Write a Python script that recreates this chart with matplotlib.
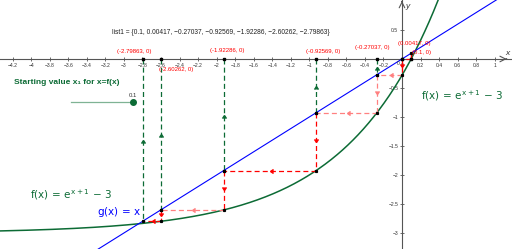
import numpy as np
import matplotlib
matplotlib.use("Agg")
import matplotlib.pyplot as plt

# ---- data ----
iterates = [0.1, 0.00417, -0.27037, -0.92569, -1.92286, -2.60262, -2.79863]
point_labels = ["(0.1, 0)", "(0.00417, 0)", "(-0.27037, 0)", "(-0.92569, 0)",
                "(-1.92286, 0)", "(-2.60262, 0)", "(-2.79863, 0)"]
list_text = "list1 = {0.1, 0.00417, \u22120.27037, \u22120.92569, \u22121.92286, \u22122.60262, \u22122.79863}"
x_ticks = [round(v, 1) for v in np.arange(-4.2, 1.01, 0.2)]
y_ticks = [0.5, -0.5, -1, -1.5, -2, -2.5, -3]
start_value = 0.1

# ---- style ----
GREEN = "#0c6b35"
BLUE = "#0000ff"
RED = "#ff0000"
PINK = "#ff8080"
GRAY = "#555555"
seg_colors = [(RED, RED), (RED, PINK), (PINK, PINK), (RED, RED), (RED, PINK), (RED, RED)]
label_offsets = [(10, 6), (12, 15), (-5, 11), (7, 7), (3, 8), (15, -11), (-8, 7)]

plt.rcParams['font.family'] = ['Liberation Sans', 'DejaVu Sans']
plt.rcParams['mathtext.fontset'] = 'dejavusans'

fig = plt.figure(figsize=(5.12, 2.49), dpi=100)
ax = fig.add_axes([0, 0, 1, 1])
ax.set_xlim(-4.337, 1.187)
ax.set_ylim(-3.276, 1.017)

def f(x):
    return np.exp(x + 1) - 3

xx = np.linspace(-4.4, 1.2, 600)
ax.plot(xx, f(xx), color=GREEN, lw=1.1, zorder=3)
ax.plot(xx, xx, color=BLUE, lw=0.8, zorder=3)

# axes through origin
for s in ['top', 'right']:
    ax.spines[s].set_visible(False)
ax.spines['left'].set_position(('data', 0))
ax.spines['bottom'].set_position(('data', 0))
for s in ['left', 'bottom']:
    ax.spines[s].set_color(GRAY)
    ax.spines[s].set_linewidth(0.8)
ax.set_xticks(x_ticks)
ax.set_xticklabels([("%g" % v).replace("-", "\u2212") for v in x_ticks])
ax.set_yticks(y_ticks)
ax.set_yticklabels([("%g" % v).replace("-", "\u2212") for v in y_ticks])
ax.tick_params(axis='both', direction='inout', length=2.5, width=0.6, color=GRAY,
               labelsize=3.6, labelcolor="#333333", pad=1.5)
ax.annotate('0', xy=(0, 0), xytext=(-4, -5), textcoords='offset pixels',
            fontsize=3.6, color="#333333", ha='center', va='center')
ax.annotate('', xy=(1.16, 0), xytext=(1.10, 0),
            arrowprops=dict(arrowstyle='->', color=GRAY, lw=0.8))
ax.annotate('', xy=(0, 1.0), xytext=(0, 0.94),
            arrowprops=dict(arrowstyle='->', color=GRAY, lw=0.8))
ax.text(1.14, 0.04, "x", fontsize=6, style='italic', color="#333333", ha='center', va='bottom')
ax.text(0.04, 0.97, "y", fontsize=6, style='italic', color="#333333", ha='left', va='top')

# cobweb
for i in range(len(iterates) - 1):
    a, b = iterates[i], iterates[i + 1]
    cv, ch = seg_colors[i]
    ax.plot([a, a], [a, b], ls=(0, (4, 2.5)), color=cv, lw=0.9, zorder=4)
    ax.plot([a, b], [b, b], ls=(0, (4, 2.5)), color=ch, lw=0.9, zorder=4)
    if abs(a - b) > 0.1:
        ax.plot(a, (a + b) / 2, marker=7, ms=2.5, color=cv, zorder=5)
        ax.plot((a + b) / 2, b, marker=4, ms=2.5, color=ch, zorder=5)
    ax.plot([a, a], [a, b], ls='none', marker='s', ms=1.3, color='k', zorder=6)
    ax.plot([b], [b], ls='none', marker='s', ms=1.3, color='k', zorder=6)

# green verticals from the x axis
for v in iterates:
    ax.plot([v, v], [0, v], ls=(0, (4, 2.5)), color=GREEN, lw=0.9, zorder=2)
    if abs(v) > 0.1:
        ax.plot(v, v / 2, marker=6, ms=2.5, color=GREEN, zorder=5)
    ax.plot(v, 0, ls='none', marker='s', ms=1.6, color='k', zorder=6)

for v, lab, off in zip(iterates, point_labels, label_offsets):
    ax.annotate(lab, xy=(v, 0), xytext=off, textcoords='offset pixels',
                ha='center', va='center', fontsize=4.3, color=RED, zorder=7)

ax.text(0.219, 0.871, list_text, transform=ax.transAxes, fontsize=4.8,
        color="#222222", ha='left', va='center')

# slider
ax.text(0.027, 0.667, "Starting value x\u2081 for x=f(x)", transform=ax.transAxes,
        fontsize=6.0, fontweight='bold', color=GREEN, ha='left', va='center',
        family=['Liberation Sans', 'DejaVu Sans'])
ax.plot([0.139, 0.260], [0.590, 0.590], transform=ax.transAxes, color="#7fb394", lw=0.9)
ax.plot([0.260], [0.590], transform=ax.transAxes, marker='o', ms=4, color=GREEN)
ax.text(0.260, 0.618, "%g" % start_value, transform=ax.transAxes, fontsize=4.3,
        color="#333333", ha='center', va='center')

ftxt = r'$\mathsf{f(x)\,=\,e^{x+1}\,-\,3}$'
ax.text(0.059, 0.217, ftxt, transform=ax.transAxes, fontsize=7.5, color=GREEN, ha='left', va='center')
ax.text(0.822, 0.618, ftxt, transform=ax.transAxes, fontsize=7.5, color=GREEN, ha='left', va='center')
ax.text(0.189, 0.149, r'$\mathsf{g(x)\,=\,x}$', transform=ax.transAxes, fontsize=7.5,
        color=BLUE, ha='left', va='center')

fig.savefig("out.png", dpi=100)
